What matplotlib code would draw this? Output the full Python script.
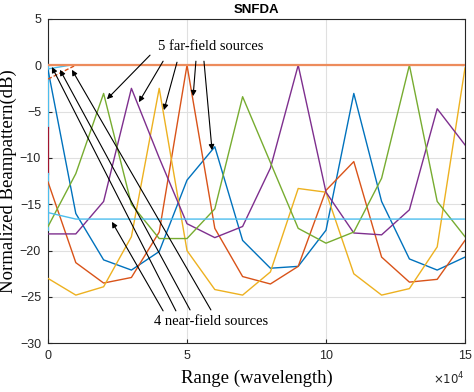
import matplotlib
matplotlib.use("Agg")
import matplotlib.pyplot as plt

# ---------------- data ----------------
range_vals = [0, 1e4, 2e4, 3e4, 4e4, 5e4, 6e4, 7e4, 8e4, 9e4, 10e4, 11e4, 12e4, 13e4, 14e4, 15e4]

s_blue   = [-0.5, -16.0, -21.0, -22.1, -20.1, -12.4, -8.8, -18.9, -21.9, -21.7, -17.8, -3.05, -14.7, -20.9, -22.1, -20.7]
s_red    = [-12.6, -21.3, -23.5, -22.9, -18.0, 0.0, -17.6, -22.8, -23.6, -21.7, -13.5, -10.4, -20.7, -23.4, -23.1, -18.9]
s_yellow = [-23.0, -24.8, -23.9, -18.5, -2.5, -20.0, -24.2, -24.8, -22.3, -13.3, -13.7, -22.5, -24.8, -24.1, -19.6, -0.3]
s_purple = [-18.2, -18.2, -14.7, -2.5, -10.0, -17.1, -18.6, -17.4, -11.1, 0.0, -13.7, -18.1, -18.3, -15.6, -4.7, -8.6]
s_green  = [-17.4, -11.7, -3.05, -15.0, -18.7, -18.7, -15.5, -3.4, -10.5, -17.6, -19.2, -18.0, -12.2, 0.0, -14.7, -18.5]
s_cyan   = [-15.9, -16.6, -16.6, -16.6, -16.6, -16.6, -16.6, -16.6, -16.6, -16.6, -16.6, -16.6, -16.6, -16.6, -16.6, -16.6]
s_max    = [0.0] * 16

# near-field sources (short pieces near range 0)
nf1_x = [0, 0.8e4]
nf1_y = [-0.4, 0.0]
nf2_x = [0, 1.0e4]
nf2_y = [-1.5, 0.0]
edge_cyan_a = [0.0, -6.8]
edge_dred   = [-6.8, -11.7]
edge_cyan_b = [-11.7, -17.8]

xtick_vals = [0, 5e4, 10e4, 15e4]
xtick_labels = ["0", "5", "10", "15"]
ytick_vals = [-30, -25, -20, -15, -10, -5, 0, 5]

# ---------------- style ----------------
C_BLUE = (0.0, 0.447, 0.741)
C_RED = (0.85, 0.325, 0.098)
C_YEL = (0.929, 0.694, 0.125)
C_PUR = (0.494, 0.184, 0.556)
C_GRN = (0.466, 0.674, 0.188)
C_CYA = (0.301, 0.745, 0.933)
C_DRED = (0.635, 0.078, 0.184)
C_MAX = (0.93, 0.55, 0.36)

fig = plt.figure(figsize=(4.74, 3.92), dpi=100)
ax = fig.add_axes([0.1013, 0.1242, 0.8797, 0.8278])

lw = 1.0
ax.plot([0, 0], edge_cyan_a, color=C_CYA, lw=1.6, zorder=3)
ax.plot([0, 0], edge_dred, color=C_DRED, lw=1.6, zorder=3)
ax.plot([0, 0], edge_cyan_b, color=C_CYA, lw=1.6, zorder=3)

for s, c in [(s_blue, C_BLUE), (s_red, C_RED), (s_yellow, C_YEL),
             (s_purple, C_PUR), (s_green, C_GRN), (s_cyan, C_CYA)]:
    ax.plot(range_vals, s, color=c, lw=lw, zorder=3)

ax.plot(nf1_x, nf1_y, color=C_CYA, lw=lw, zorder=3)
ax.plot(nf2_x, nf2_y, color=C_RED, lw=lw, ls=(0, (3, 1.5)), zorder=3)
ax.plot(range_vals, s_max, color=C_MAX, lw=1.6, zorder=4)

ax.set_xlim(0, 15e4)
ax.set_ylim(-30, 5)
ax.set_xticks(xtick_vals)
ax.set_xticklabels(xtick_labels)
ax.set_yticks(ytick_vals)
ax.grid(True, color=(0.88, 0.88, 0.88), lw=0.8, zorder=0)
ax.set_axisbelow(True)
ax.tick_params(direction="in", length=3, width=0.8, colors=(0.15, 0.15, 0.15),
               labelsize=9, pad=5, top=False, right=True)
for lab in ax.get_xticklabels() + ax.get_yticklabels():
    lab.set_fontfamily("Liberation Sans")
for sp in ax.spines.values():
    sp.set_color((0.15, 0.15, 0.15))
    sp.set_linewidth(0.8)

ax.set_title("SNFDA", fontsize=9.5, fontweight="bold", family="Liberation Sans", pad=4)
ax.set_xlabel("Range (wavelength)", fontsize=13.5, family="Liberation Serif", labelpad=5)
ax.set_ylabel("Normalized Beampattern(dB)", fontsize=13.5, family="Liberation Serif", labelpad=2)
ax.text(1.0, -0.085, r"$\times10^4$", transform=ax.transAxes, ha="right", va="top",
        fontsize=8.5, color=(0.15, 0.15, 0.15))

# annotations
ap = dict(arrowstyle="-|>", color="black", lw=0.8, mutation_scale=8, shrinkA=0, shrinkB=0)
ax.text(5.86e4, 2.05, "5 far-field sources", ha="center", va="center",
        fontsize=10.5, family="Liberation Serif", zorder=6)
far = [((3.67e4, 1.08), (2.12e4, -3.67)),
       ((4.14e4, 0.43), (3.27e4, -3.99)),
       ((4.64e4, 0.32), (4.17e4, -4.85)),
       ((5.32e4, 0.43), (5.22e4, -3.34)),
       ((5.61e4, 0.43), (5.90e4, -9.17))]
for st, en in far:
    ax.annotate("", xy=en, xytext=st, arrowprops=ap, zorder=6)

ax.text(5.88e4, -27.7, "4 near-field sources", ha="center", va="center",
        fontsize=10.5, family="Liberation Serif", zorder=6)
near = [((4.14e4, -26.5), (2.30e4, -16.9)),
        ((4.60e4, -26.5), (0.14e4, -0.2)),
        ((5.11e4, -26.4), (0.43e4, -0.5)),
        ((5.86e4, -26.4), (0.86e4, -0.5))]
for st, en in near:
    ax.annotate("", xy=en, xytext=st, arrowprops=ap, zorder=6)

fig.savefig("out.png", dpi=100)
